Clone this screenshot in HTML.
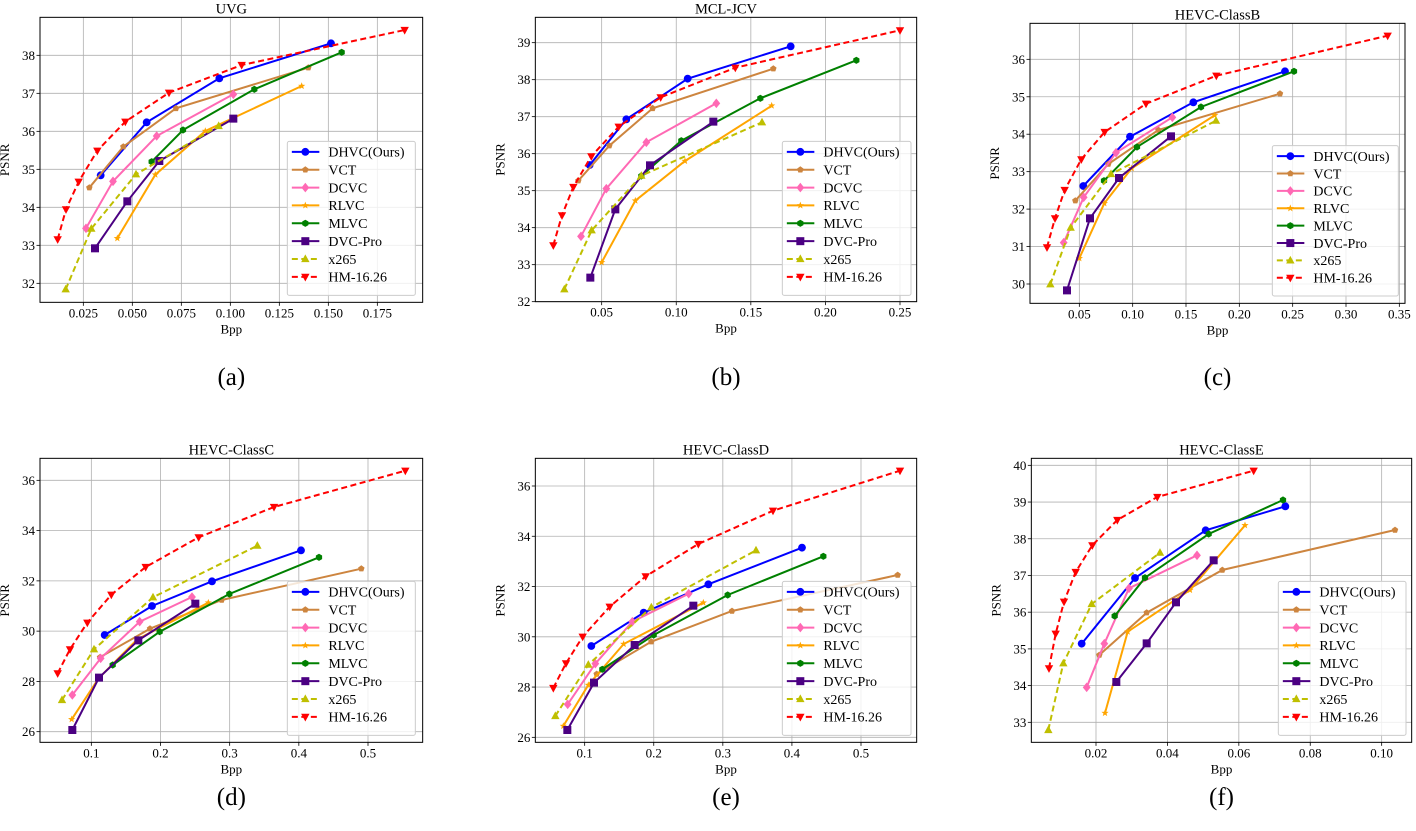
<!DOCTYPE html>
<html><head><meta charset="utf-8">
<style>
html,body{margin:0;padding:0;background:#fff;}
svg{display:block;}
text{font-family:"Liberation Serif","DejaVu Serif",serif;fill:#000;}
.cap{font-family:"Liberation Serif","Times New Roman",serif;}
</style></head>
<body>
<svg id="s" width="1416" height="831" xmlns="http://www.w3.org/2000/svg"></svg>
<script>
const NS="http://www.w3.org/2000/svg";
const S=document.getElementById('s');
function el(t,a,p){const e=document.createElementNS(NS,t);for(const k in a)e.setAttribute(k,a[k]);(p||S).appendChild(e);return e;}
function tx(x,y,s,a){const e=el('text',Object.assign({x:x,y:y},a||{}));e.textContent=s;return e;}
const names=["DHVC(Ours)","VCT","DCVC","RLVC","MLVC","DVC-Pro","x265","HM-16.26"];
const cols=["#0000ff","#cd853f","#ff69b4","#ffa500","#008000","#4b0082","#bfbf00","#ff0000"];
const mk=["o","p","D","*","h","s","^","v"];
function poly(n,r,rot){let a=[];for(let i=0;i<n;i++){const t=rot+i*2*Math.PI/n;a.push([r*Math.cos(t),r*Math.sin(t)]);}return a;}
function marker(g,m,x,y,c){
  let pts;
  if(m=="o"){el('circle',{cx:x,cy:y,r:3.9,fill:c},g);return;}
  if(m=="p")pts=poly(5,3.4,-Math.PI/2);
  if(m=="D")pts=[[0,-4.8],[3.9,0],[0,4.8],[-3.9,0]];
  if(m=="h")pts=poly(6,3.6,-Math.PI/2);
  if(m=="s")pts=[[-4,-4],[4,-4],[4,4],[-4,4]];
  if(m=="^")pts=[[0,-4.6],[4.2,3.1],[-4.2,3.1]];
  if(m=="v")pts=[[0,4.6],[4.2,-3.1],[-4.2,-3.1]];
  if(m=="*"){pts=[];for(let i=0;i<10;i++){const r=i%2?1.6:3.8,t=-Math.PI/2+i*Math.PI/5;pts.push([r*Math.cos(t),r*Math.sin(t)]);}}
  el('polygon',{points:pts.map(p=>(x+p[0]).toFixed(2)+","+(y+p[1]).toFixed(2)).join(" "),fill:c},g);
}
function range(a,b,s){let r=[];for(let v=a;v<=b+1e-9;v+=s)r.push(v);return r;}
const P=[
 {ox:0,oy:0,title:"UVG",cap:"(a)",box:[120,52,1268,907],
  xt:range(0,6,1).map(i=>[250+147*i,(0.025*(i+1)).toFixed(3)]),
  yt:range(32,38,1).map(v=>[166+114*(38-v),""+v]),
  leg:[862,424,1246,886],
  s:[[[302,526],[440,367],[658,235],[993,130]],
     [[268,563],[370,440],[528,325],[925,203]],
     [[258,685],[339,544],[470,408],[700,283]],
     [[352,715],[466,524],[616,393],[905,258]],
     [[455,485],[549,390],[763,268],[1025,157]],
     [[285,745],[382,604],[478,483],[700,356]],
     [[197,868],[274,686],[408,523],[656,378]],
     [[173,718],[198,628],[236,545],[292,452],[376,365],[507,278],[725,195],[1214,90]]]},
 {ox:470,oy:0,title:"MCL-JCV",cap:"(b)",box:[196,52,1340,905],
  xt:range(0,4,1).map(i=>[395+223.75*i,(0.05*(i+1)).toFixed(2)]),
  yt:range(32,39,1).map(v=>[128+111*(39-v),""+v]),
  leg:[937,424,1323,886],
  s:[[[359,495],[469,358],[653,236],[962,139]],
     [[325,542],[418,437],[548,325],[910,206]],
     [[333,709],[409,566],[529,427],[739,310]],
     [[395,787],[496,602],[645,483],[905,317]],
     [[514,528],[634,422],[871,295],[1159,181]],
     [[361,833],[436,628],[540,496],[730,365]],
     [[283,868],[365,691],[514,527],[876,367]],
     [[250,736],[276,646],[310,561],[364,469],[446,380],[572,292],[796,203],[1290,91]]]},
 {ox:940,oy:0,title:"HEVC-ClassB",cap:"(c)",box:[270,70,1395,910],
  xt:range(0,6,1).map(i=>[418+160*i,(0.05*(i+1)).toFixed(2)]),
  yt:range(30,36,1).map(v=>[178+112.33*(36-v),""+v]),
  leg:[997,437,1375,888],
  s:[[[430,558],[570,410],[760,307],[1035,214]],
     [[406,602],[505,492],[655,390],[1020,281]],
     [[371,728],[431,592],[528,458],[697,352]],
     [[418,775],[493,610],[575,505],[824,346]],
     [[492,542],[591,441],[783,321],[1062,214]],
     [[381,871],[450,655],[537,534],[693,409]],
     [[331,853],[392,683],[513,522],[828,362]],
     [[321,742],[345,655],[374,570],[424,478],[494,396],[618,311],[829,227],[1343,107]]]},
 {ox:0,oy:420,title:"HEVC-ClassC",cap:"(d)",box:[120,115,1268,967],
  xt:range(0,4,1).map(i=>[274+207.5*i,(0.1*(i+1)).toFixed(1)]),
  yt:range(26,36,2).map(v=>[181+75.4*(36-v),""+v]),
  leg:[862,484,1246,946],
  s:[[[314,645],[456,558],[636,484],[903,391]],
     [[300,712],[450,626],[665,540],[1084,446]],
     [[217,825],[302,715],[419,605],[576,531]],
     [[215,898],[296,775],[412,658],[625,548]],
     [[338,735],[479,635],[688,522],[957,412]],
     [[217,930],[297,773],[415,661],[586,551]],
     [[186,840],[282,688],[459,532],[772,377]],
     [[173,760],[210,688],[262,608],[334,524],[437,441],[596,352],[822,261],[1216,152]]]},
 {ox:470,oy:420,title:"HEVC-ClassD",cap:"(e)",box:[196,115,1340,967],
  xt:range(0,4,1).map(i=>[344+207.25*i,(0.1*(i+1)).toFixed(1)]),
  yt:range(26,36,2).map(v=>[198+75.4*(36-v),""+v]),
  leg:[937,484,1323,946],
  s:[[[364,678],[521,578],[715,493],[996,383]],
     [[380,762],[544,665],[786,573],[1283,465]],
     [[293,853],[376,731],[487,605],[656,521]],
     [[280,918],[355,795],[461,672],[700,548]],
     [[397,748],[551,645],[773,525],[1060,409]],
     [[292,930],[372,788],[494,675],[670,557]],
     [[256,888],[355,734],[544,562],[858,391]],
     [[250,804],[288,730],[338,650],[419,560],[527,469],[685,372],[909,272],[1290,152]]]},
 {ox:940,oy:420,title:"HEVC-ClassE",cap:"(f)",box:[274,115,1415,967],
  xt:range(0,4,1).map(i=>[468+214.25*i,(0.02*(i+1)).toFixed(2)]),
  yt:range(33,40,1).map(v=>[136+110.14*(40-v),""+v]),
  leg:[1015,484,1398,946],
  s:[[[425,671],[585,474],[797,331],[1036,259]],
     [[478,705],[620,578],[847,450],[1365,330]],
     [[440,802],[493,671],[567,505],[771,406]],
     [[495,879],[563,635],[750,510],[915,316]],
     [[524,588],[615,473],[806,342],[1029,240]],
     [[529,786],[620,670],[708,547],[821,421]],
     [[325,930],[370,730],[455,552],[660,398]],
     [[327,745],[347,641],[372,545],[407,456],[457,376],[532,300],[652,231],[941,152]]]}
];
P.forEach(p=>{
  const X=v=>p.ox+v/3, Y=v=>p.oy+v/3;
  const [bx0,by0,bx1,by1]=p.box.map((v,i)=>i%2?Y(v):X(v));
  const g=el('g',{});
  p.xt.forEach(t=>{const x=X(t[0]);
    el('line',{x1:x,x2:x,y1:by0,y2:by1,stroke:"#b0b0b0","stroke-width":0.8},g);
    el('line',{x1:x,x2:x,y1:by1,y2:by1+3.5,stroke:"#000","stroke-width":0.8},g);
    tx(x,by1+15,t[1],{"font-size":"13","text-anchor":"middle"});});
  p.yt.forEach(t=>{const y=Y(t[0]);
    el('line',{x1:bx0,x2:bx1,y1:y,y2:y,stroke:"#b0b0b0","stroke-width":0.8},g);
    el('line',{x1:bx0-3.5,x2:bx0,y1:y,y2:y,stroke:"#000","stroke-width":0.8},g);
    tx(bx0-5,y+4.5,t[1],{"font-size":"13","text-anchor":"end"});});
  const cx=(bx0+bx1)/2;
  tx(cx,by0-4,p.title,{"font-size":"14.5","text-anchor":"middle"});
  tx(cx,by1+31,"Bpp",{"font-size":"13","text-anchor":"middle"});
  const py=(by0+by1)/2, pxl=bx0-31;
  tx(pxl,py,"PSNR",{"font-size":"13","text-anchor":"middle",transform:`rotate(-90 ${pxl} ${py})`});
  tx(cx,p.oy+385,p.cap,{"font-size":"25","text-anchor":"middle","class":"cap"});
  const clip="c"+p.ox+"_"+p.oy;
  const cp=el('clipPath',{id:clip});el('rect',{x:bx0,y:by0,width:bx1-bx0,height:by1-by0},cp);
  const sg=el('g',{"clip-path":`url(#${clip})`});
  p.s.forEach((s,i)=>{
    el('polyline',{points:s.map(q=>X(q[0]).toFixed(1)+","+Y(q[1]).toFixed(1)).join(" "),fill:"none",stroke:cols[i],"stroke-width":2,"stroke-dasharray":i>=6?"6,3.5":"none"},sg);
    s.forEach(q=>marker(sg,mk[i],X(q[0]),Y(q[1]),cols[i]));
  });
  el('rect',{x:bx0,y:by0,width:bx1-bx0,height:by1-by0,fill:"none",stroke:"#000","stroke-width":1});
  const [lx0,ly0,lx1,ly1]=[X(p.leg[0]),Y(p.leg[1]),X(p.leg[2]),Y(p.leg[3])];
  el('rect',{x:lx0,y:ly0,width:lx1-lx0,height:ly1-ly0,fill:"#fff","fill-opacity":0.8,stroke:"#ccc","stroke-width":1,rx:2});
  const step=(ly1-ly0-20)/7.5;
  names.forEach((n,i)=>{
    const y=ly0+10.5+step*i;
    el('line',{x1:lx0+4.5,x2:lx0+32,y1:y,y2:y,stroke:cols[i],"stroke-width":2,"stroke-dasharray":i>=6?"6,3.5":"none"});
    marker(S,mk[i],lx0+18,y,cols[i]);
    tx(lx0+41,y+4.8,n,{"font-size":"14"});
  });
});
</script>
</body></html>
